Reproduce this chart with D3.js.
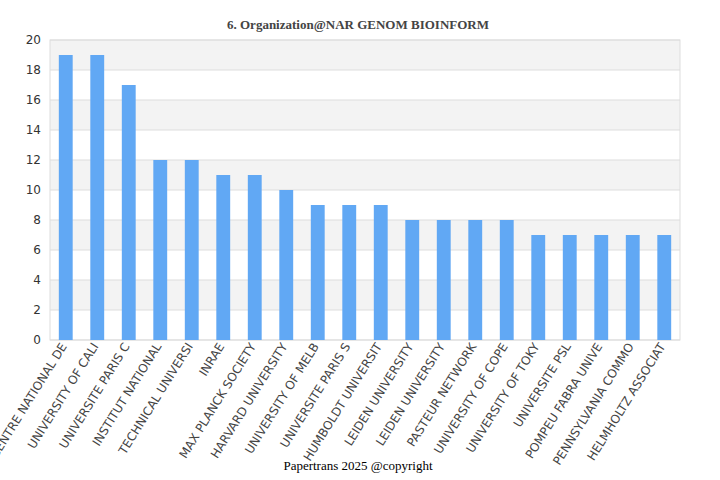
<!DOCTYPE html>
<html>
<head>
<meta charset="utf-8">
<script src="https://cdn.jsdelivr.net/npm/d3@7"></script>
<style>
  body { margin: 0; background: #fff; }
</style>
</head>
<body>
<div id="chart"></div>
<script>
const organizations = ["CENTRE NATIONAL DE", "UNIVERSITY OF CALI", "UNIVERSITE PARIS C", "INSTITUT NATIONAL",
  "TECHNICAL UNIVERSI", "INRAE", "MAX PLANCK  SOCIETY", "HARVARD UNIVERSITY", "UNIVERSITY OF MELB",
  "UNIVERSITE PARIS S", "HUMBOLDT UNIVERSIT", "LEIDEN UNIVERSITY", "LEIDEN UNIVERSITY ", "PASTEUR NETWORK",
  "UNIVERSITY OF COPE", "UNIVERSITY OF TOKY", "UNIVERSITE PSL", "POMPEU FABRA  UNIVE",
  "PENNSYLVANIA  COMMO", "HELMHOLTZ  ASSOCIAT"]
const counts = [19, 19, 17, 12, 12, 11, 11, 10, 9, 9, 9, 8, 8, 8, 8, 7, 7, 7, 7, 7]
const yTicks = [0, 2, 4, 6, 8, 10, 12, 14, 16, 18, 20]

const width = 720
const height = 480
const margin = { top: 40, right: 40, bottom: 140, left: 50 }
const innerW = width - margin.left - margin.right
const innerH = height - margin.top - margin.bottom
const sans = "DejaVu Sans, Verdana, sans-serif"

const svg = d3.select("div#chart").append("svg").attr("width", width).attr("height", height)

const g = svg.append("g").attr("transform", `translate(${margin.left}, ${margin.top})`)

const x = d3.scaleBand().domain(organizations).range([0, innerW]).paddingInner(0.56).paddingOuter(0.28)
const y = d3.scaleLinear().domain([0, 20]).range([innerH, 0])

// alternating bands
const bands = d3.pairs(yTicks)
g.selectAll("rect.band").data(bands).enter().append("rect")
  .attr("class", "band")
  .attr("x", 0)
  .attr("width", innerW)
  .attr("y", d => y(d[1]))
  .attr("height", d => y(d[0]) - y(d[1]))
  .attr("fill", (d, i) => i % 2 === 1 ? "#f3f3f3" : "#ffffff")

// grid lines
g.selectAll("line.grid").data(yTicks).enter().append("line")
  .attr("x1", 0).attr("x2", innerW)
  .attr("y1", d => y(d)).attr("y2", d => y(d))
  .attr("stroke", "#dddddd").attr("stroke-width", 1)

// frame
g.append("rect").attr("x", 0).attr("y", 0).attr("width", innerW).attr("height", innerH)
  .attr("fill", "none").attr("stroke", "#dddddd")

// bars
g.selectAll("rect.bar").data(counts).enter().append("rect")
  .attr("class", "bar")
  .attr("x", (d, i) => x(organizations[i]))
  .attr("width", x.bandwidth())
  .attr("y", d => y(d))
  .attr("height", d => innerH - y(d))
  .attr("fill", "#61a8f4")

// y axis
const yAxis = d3.axisLeft(y).tickValues(yTicks).tickSize(0).tickPadding(9)
const yg = g.append("g").call(yAxis).attr("font-family", sans)
yg.select(".domain").remove()
yg.selectAll("text").attr("fill", "#333").attr("font-family", sans).style("font-size", "12px")

// x axis
const xAxis = d3.axisBottom(x).tickSize(0).tickPadding(0)
const xg = g.append("g").attr("transform", `translate(0, ${innerH})`).call(xAxis).attr("font-family", sans)
xg.select(".domain").remove()
xg.selectAll("text")
  .attr("fill", "#444")
  .attr("font-family", sans)
  .style("font-size", "12px")
  .attr("text-anchor", "end")
  .attr("dy", "0.35em")
  .attr("transform", "translate(-2, 4) rotate(-58)")

// title
svg.append("text").attr("x", 358).attr("y", 29).attr("text-anchor", "middle")
  .attr("font-family", "Liberation Serif, serif").style("font-weight", "bold").style("font-size", "13px")
  .attr("fill", "#444")
  .text("6. Organization@NAR GENOM BIOINFORM")

// footer
svg.append("text").attr("x", 358).attr("y", 470).attr("text-anchor", "middle")
  .attr("font-family", "Liberation Serif, serif").style("font-size", "13px")
  .attr("fill", "#000")
  .text("Papertrans 2025 @copyright")
</script>
</body>
</html>
